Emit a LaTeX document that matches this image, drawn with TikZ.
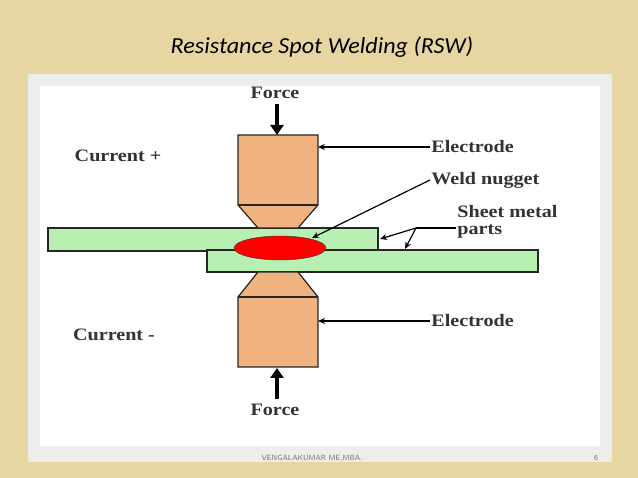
\documentclass[tikz,border=0pt]{standalone}
\usepackage{fontspec}
\setmainfont{Liberation Serif}
\newfontfamily\titlefont{Carlito}
\usetikzlibrary{arrows.meta,shapes.geometric}
\definecolor{bg}{HTML}{E8D6A2}
\definecolor{elec}{HTML}{F0B27E}
\definecolor{sheet}{HTML}{B8F0B4}
\tikzset{
  lbl/.style={font=\fontsize{17.5}{17}\selectfont\bfseries, text=black!80, inner sep=1pt, xscale=1.15},
  ptr/.style={draw=black, line width=1.2pt, -{Stealth[length=7pt,width=6pt]}},
  force/.style={draw=black, line width=4pt, -{Triangle[length=10pt,width=13pt]}},
  part/.style={draw=black!85, line width=1.2pt}
}
\begin{document}
\begin{tikzpicture}[x=1pt,y=-1pt]
\useasboundingbox (0,0) rectangle (638,478);
\fill[bg] (0,0) rectangle (638,478);
\fill[black!7] (28,74) rectangle (612,462);
\fill[white] (40,86) rectangle (600,446);
\node[font=\titlefont\itshape\fontsize{23}{24}\selectfont, xscale=1.05] (title) at (322,47) {Resistance Spot Welding (RSW)};
% sheets
\path[part, fill=sheet] (48,228) rectangle (378,251);
\path[part, fill=sheet] (207,250) rectangle (538,272);
\node[draw=black!80, fill=red, ellipse, minimum width=92pt, minimum height=24pt, inner sep=0pt] (nug) at (280,248) {};
% electrodes
\path[part, fill=elec] (238,135) -- (318,135) -- (318,205) -- (298,228) -- (258,228) -- (238,205) -- cycle;
\draw[part] (238,205) -- (318,205);
\path[part, fill=elec] (258,272) -- (298,272) -- (318,297) -- (318,367) -- (238,367) -- (238,297) -- cycle;
\draw[part] (238,297) -- (318,297);
\coordinate (etop) at (318,147);
\coordinate (ebot) at (318,321);
\coordinate (ntip) at (312,238);
\coordinate (s1) at (380,239);
\coordinate (s2) at (405,249);
\coordinate (sj) at (416,228);
\coordinate (ftop) at (277,135);
\coordinate (fbot) at (277,368);
% labels
\node[lbl] (f1) at (275,93) {Force};
\node[lbl] (f2) at (275,410) {Force};
\draw[force] (277,104) -- (ftop);
\draw[force] (277,399) -- (fbot);
\node[lbl, anchor=west] (el1) at (430,147) {Electrode};
\node[lbl, anchor=west] (el2) at (430,321) {Electrode};
\node[lbl, anchor=west] (wn) at (430,180) {Weld nugget};
\node[lbl, anchor=west, align=left] (sm) at (456,222) {Sheet metal\\parts};
\node[lbl] (cp) at (118,156) {Current +};
\node[lbl] (cm) at (114,335) {Current -};
\draw[ptr] (el1.west) -- (etop);
\draw[ptr] (el2.west) -- (ebot);
\draw[ptr] (wn.west) -- (ntip);
\draw[line width=1.2pt] (456,228) -- (sj);
\draw[ptr] (sj) -- (s1);
\draw[ptr] (sj) -- (s2);
\node[font=\sffamily\fontsize{7.5}{8}\selectfont, text=black!55] (foot) at (312,458) {VENGALAKUMAR ME,MBA.};
\node[font=\sffamily\fontsize{7.5}{8}\selectfont, text=black!55] (pg) at (596,458) {6};
\end{tikzpicture}
\end{document}
